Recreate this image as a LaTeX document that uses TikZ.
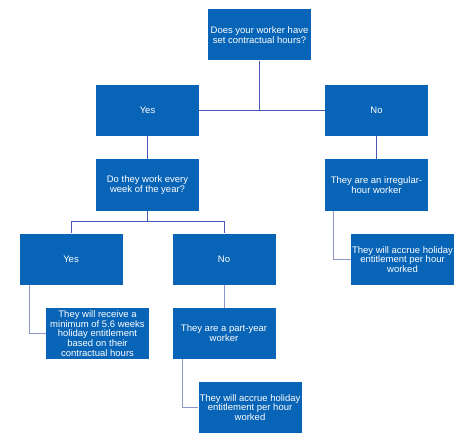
\documentclass[tikz,border=0pt]{standalone}
\usepackage{fontspec}
\setmainfont{Liberation Sans}
\usepackage{tikz}
\usetikzlibrary{positioning,calc}

\definecolor{boxblue}{RGB}{8,100,182}
\definecolor{linkblue}{RGB}{72,86,180}
\definecolor{sidelink}{RGB}{140,150,200}

\tikzset{
  box/.style={rectangle,fill=boxblue,text=white,minimum width=103pt,minimum height=51pt,
    inner sep=0.5pt,align=center,font=\fontsize{9.5}{9.8}\selectfont},
  link/.style={draw=linkblue,line width=0.9pt},
  sidelink/.style={draw=sidelink,line width=0.9pt}
}

\begin{document}
\begin{tikzpicture}[x=1pt,y=-1pt]
  \useasboundingbox (0,0) rectangle (474,441);
  % first question
  \node[box] (hours) at (259.5,35) {Does your worker have\\set contractual hours?};
  \node[box] (yesA) at (147.5,110.5) {Yes};
  \node[box] (noA) at (376.5,110.5) {No};
  \draw[link] (yesA.east) -- (noA.west);
  \draw[link] (hours.south) -- (hours.south |- yesA.east);
  % second question
  \node[box] (weeks) at (147.5,185) {Do they work every\\week of the year?};
  \node[box] (irregular) at (376.5,185) {They are an irregular-\\hour worker};
  \draw[link] (yesA.south) -- (weeks.north);
  \draw[link] (noA.south) -- (irregular.north);
  \node[box] (yesB) at (71,259) {Yes};
  \node[box] (noB) at (224,259) {No};
  \coordinate (split) at ($(weeks.south)+(0,11)$);
  \draw[link] (weeks.south) -- (split);
  \draw[link] (yesB.north) |- (split) -| (noB.north);
  % outcomes
  \node[box] (accrueA) at (402.5,259.5) {They will accrue holiday\\entitlement per hour\\worked};
  \draw[sidelink] ([xshift=9pt]irregular.south west) |- (accrueA.west);
  \node[box] (receive) at (97.5,333.5) {They will receive a\\minimum of 5.6 weeks\\holiday entitlement\\based on their\\contractual hours};
  \draw[sidelink] ([xshift=10pt]yesB.south west) |- (receive.west);
  \node[box] (partyear) at (224,333.5) {They are a part-year\\worker};
  \draw[sidelink] (noB.south) -- (partyear.north);
  \node[box] (accrueB) at (250,407.5) {They will accrue holiday\\entitlement per hour\\worked};
  \draw[sidelink] ([xshift=10pt]partyear.south west) |- (accrueB.west);
\end{tikzpicture}
\end{document}
